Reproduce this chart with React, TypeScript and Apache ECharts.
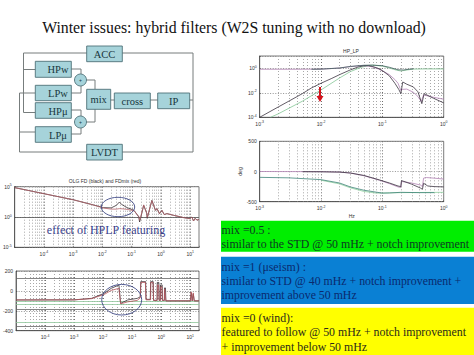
import React, { useEffect, useRef } from "react";
import * as echarts from "echarts";

const titleText = "Winter issues: hybrid filters (W2S tuning with no download)";
const hpLpXTicks = [-3, -2, -1, 0];
const hpLpMagTicks = [-4, -2, 0];
const olgXTicks = [-4, -3, -2, -1, 0, 1];
const olgMagTicks = [-5, 0, 5];
const minorSteps = [1, 2, 3, 4, 5, 6, 7, 8, 9];
const olgMarginLevels = [130, -180, -360];
const olgMarginLevelsGreen = [-100, -135, -315];

const magPurple = [[0.001,0.83],[0.005,0.83],[0.01,0.85],[0.015,0.95],[0.02,1.05],[0.03,1.35],[0.04,1.55],[0.05,1.6],[0.06,1.5],[0.07,1.25],[0.085,0.9],[0.1,0.62],[0.13,0.3],[0.16,0.12],[0.18,0.06],[0.195,0.022],[0.2,0.015],[0.21,0.019],[0.25,0.02],[0.32,0.011],[0.38,0.005],[0.43,0.0019],[0.44,0.0019],[0.47,0.0067],[0.68,0.0043],[1,0.003]];
const magBlackHp = [[0.001,0.0001],[0.002,0.00069],[0.003,0.0021],[0.005,0.0087],[0.007,0.025],[0.01,0.06],[0.015,0.15],[0.02,0.3],[0.03,0.73],[0.04,1.25],[0.05,1.6],[0.06,1.6],[0.07,1.37],[0.085,1],[0.1,0.65],[0.13,0.24],[0.16,0.06],[0.185,0.019],[0.2,0.0085],[0.215,0.076],[0.25,0.05],[0.32,0.03],[0.38,0.012],[0.44,0.0013],[0.48,0.0085],[0.68,0.0036],[1,0.0015]];
const magBlackLp = [[0.007,0.83],[0.01,0.85],[0.02,1.05],[0.03,1.4],[0.05,1.75],[0.07,1.8],[0.1,1.6],[0.13,1.2],[0.18,0.75],[0.22,0.72],[0.28,0.85],[0.32,0.88]];
const magGreenHp = [[0.0015,0.0001],[0.002,0.00019],[0.003,0.00055],[0.005,0.0021],[0.01,0.017],[0.02,0.16],[0.03,0.53],[0.045,1.2],[0.055,1.5]];
const magGreenLp = [[0.05,1.6],[0.07,1.8],[0.1,1.5],[0.13,1.05],[0.17,0.7],[0.2,0.6],[0.25,0.72],[0.32,0.85],[0.5,0.88],[1,0.88]];

const phPurple = [[0.001,0],[0.01,-3],[0.02,-10],[0.03,-25],[0.05,-70],[0.09,-145],[0.13,-200],[0.18,-255],[0.2,-265],[0.205,-165],[0.3,-190],[0.42,-225],[0.45,-250],[0.47,-110],[0.52,-100],[0.7,-110],[1,-125]];
const phBlack = [[0.005,-3],[0.01,-5],[0.02,-10],[0.03,-25],[0.05,-65],[0.09,-140],[0.13,-190],[0.18,-240],[0.2,-250],[0.205,-150],[0.3,-210],[0.42,-275],[0.45,-295],[0.47,-195],[0.55,-240],[0.7,-250],[1,-255]];
const phTeal = [[0.001,-97],[0.003,-105],[0.01,-135],[0.02,-190],[0.03,-255],[0.05,-310],[0.1,-358],[0.13,-355],[0.2,-345],[0.4,-350],[0.7,-350]];
const phGreen = [[0.01,-145],[0.02,-205],[0.03,-270],[0.05,-330],[0.08,-358],[0.2,-350],[1,-345]];

const olgMagBlack = [[0.00001,70000],[0.0001,7000],[0.001,700],[0.004,126],[0.011,35],[0.02,32],[0.03,85],[0.038,295],[0.045,120],[0.07,35],[0.12,12.6],[0.175,1],[0.186,0.15],[0.2,0.5],[0.257,85],[0.33,3.6],[0.34,0.6],[0.49,562],[0.65,12.6],[0.73,24],[0.89,3.6],[1.08,12.6],[1.3,2.5],[1.6,3.6],[2.7,1.9],[5.9,0.8],[10,0.54],[11.4,1],[13,0.22],[14.8,0.6],[17,0.3],[20,0.4]];
const olgMagRed = [[0.00001,70000],[0.0001,7000],[0.001,700],[0.004,126],[0.011,30],[0.02,20],[0.03,20],[0.038,24],[0.05,22],[0.07,18],[0.12,11],[0.175,1.2],[0.186,0.3],[0.2,0.8],[0.257,100],[0.33,3.6],[0.34,0.9],[0.49,500],[0.65,12.6],[0.73,24],[0.89,3.6],[1.08,12.6],[1.3,2.5],[1.6,3.6],[2.7,1.9],[5.9,0.8],[10,0.54],[11.4,1],[13,0.22],[14.8,0.6],[17,0.3],[20,0.4]];
const olgPhBlack = [[0.00001,-91],[0.001,-90],[0.004,-75],[0.011,-24],[0.019,26],[0.035,59],[0.04,-125],[0.07,-91],[0.15,-75],[0.19,-60],[0.197,93],[0.291,93],[0.3,-85],[0.42,-85],[0.432,93],[0.533,93],[0.545,-95],[0.72,-95],[0.73,85],[0.83,85],[0.85,-95],[0.93,-95],[0.946,60],[1.08,60],[1.1,-95],[1.28,-95],[1.3,30],[1.4,30],[1.45,-100],[10,-100],[10.8,-20],[11.7,-100],[12.7,-30],[13.7,-100],[20,-100]];
const olgPhRed = [[0.00001,-91],[0.001,-90],[0.004,-78],[0.011,-35],[0.019,5],[0.035,26],[0.04,-130],[0.07,-110],[0.15,-95],[0.19,-70],[0.2,85],[0.285,85],[0.3,-90],[0.43,-90],[0.44,85],[0.52,85],[0.545,-95],[0.73,-95],[0.74,60],[0.81,60],[0.85,-95],[0.95,-95],[0.96,40],[1.06,40],[1.1,-95],[1.29,-95],[1.31,20],[1.38,20],[1.45,-100],[10,-100],[10.8,-10],[11.7,-100],[12.7,-20],[13.7,-100],[20,-100]];

const grids = [
  { left: 259.7, top: 56, width: 184, height: 61.3 },
  { left: 259.7, top: 141.3, width: 184, height: 60.4 },
  { left: 14.7, top: 186.7, width: 184.3, height: 60.6 },
  { left: 14.7, top: 271, width: 184.3, height: 59.7 },
];

const SERIF = "'Liberation Serif', serif";
const SANS = "'Liberation Sans', sans-serif";
const axisColor = "#444";
const dots = [1, 1.6];

const expLabel = (shown: number[]) => (v: number) => {
  const e = Math.log10(v);
  const r = Math.round(e);
  if (Math.abs(e - r) > 0.01 || !shown.includes(r)) return "";
  return `10{e|${r}}`;
};
const richLabel = {
  color: "#333",
  fontSize: 5,
  fontFamily: SANS,
  margin: 3,
  rich: { e: { fontSize: 3.5, fontFamily: SANS, color: "#333", padding: [0, 0, 3, 0] } },
};
const plainLabel = { color: "#333", fontSize: 5, fontFamily: SANS, margin: 3 };
const lineCommon = { show: true, onZero: false, lineStyle: { color: axisColor, width: 0.7 } };
const tickCommon = { show: true, inside: true, length: 1.5, lineStyle: { color: axisColor, width: 0.5 } };
const dotted = { show: true, lineStyle: { color: "#777", type: dots, width: 0.8 } };

function xAxis(gridIndex: number, min: number, max: number, shown: number[], name?: string) {
  return {
    type: "log" as const, gridIndex, min, max, logBase: 10, interval: 1,
    axisLine: lineCommon, axisTick: tickCommon, splitLine: { show: false },
    axisLabel: { ...richLabel, formatter: expLabel(shown), showMinLabel: true, showMaxLabel: true, hideOverlap: false },
    name, nameLocation: "middle" as const, nameGap: 12,
    nameTextStyle: { fontSize: 5, fontFamily: SANS, color: "#333" },
  };
}
function logY(gridIndex: number, min: number, max: number, interval: number, shown: number[]) {
  return {
    type: "log" as const, gridIndex, min, max, logBase: 10, interval,
    axisLine: lineCommon, axisTick: tickCommon, splitLine: dotted,
    axisLabel: { ...richLabel, formatter: expLabel(shown), showMinLabel: true, showMaxLabel: true },
  };
}
function linY(gridIndex: number, min: number, max: number, interval: number, name?: string) {
  return {
    type: "value" as const, gridIndex, min, max, interval,
    axisLine: lineCommon, axisTick: tickCommon, splitLine: dotted,
    axisLabel: { ...plainLabel },
    name, nameLocation: "middle" as const, nameGap: 12,
    nameTextStyle: { fontSize: 5, fontFamily: SANS, color: "#333" },
  };
}
function freqGridValues(fromExp: number, toExp: number, minVal: number, maxVal: number, yRef: number) {
  const out: number[][] = [];
  for (let k = fromExp; k <= toExp; k++) {
    for (const s of minorSteps) {
      const v = s * Math.pow(10, k);
      if (v > minVal && v < maxVal) out.push([v, yRef]);
    }
  }
  return out;
}
function freqGrid(i: number, data: number[][]) {
  return {
    type: "custom" as const, name: `freq grid ${i}`, xAxisIndex: i, yAxisIndex: i, data, silent: true, z: 1,
    encode: { x: 0, y: 1 },
    renderItem: (params: any, api: any) => {
      const p = api.coord([api.value(0), api.value(1)]);
      const c = params.coordSys;
      const x = Math.round(p[0]) + 0.5;
      const isMajor = Math.abs(Math.log10(api.value(0)) - Math.round(Math.log10(api.value(0)))) < 0.001;
      return {
        type: "line",
        shape: { x1: x, y1: c.y, x2: x, y2: c.y + c.height },
        style: { stroke: isMajor ? "#707070" : "#a8a8a8", lineWidth: 1, lineDash: [1, 2] },
      };
    },
  };
}
function levelSeries(i: number, levels: { yAxis: number; color: string }[]) {
  return {
    type: "line" as const, name: `levels ${i}`, xAxisIndex: i, yAxisIndex: i, data: [], silent: true,
    markLine: {
      silent: true, symbol: "none", animation: false, z: 2, label: { show: false },
      data: levels.map((l) => ({ yAxis: l.yAxis, lineStyle: { color: l.color, type: "solid" as const, width: 0.8 } })),
    },
  };
}
function curve(i: number, name: string, data: number[][], color: string, width = 0.8) {
  return {
    type: "line" as const, name, xAxisIndex: i, yAxisIndex: i, data, showSymbol: false, symbol: "none",
    z: 3, lineStyle: { color, width }, itemStyle: { color },
  };
}

const boxFill = "#a6d3da";
const boxStroke = "#4f7278";
const wire = "#777d7d";
const boxText = "#17363c";
function box(x: number, y: number, w: number, h: number, label: string, textX?: number) {
  return [
    { type: "rect", shape: { x, y, width: w, height: h }, style: { fill: boxFill, stroke: boxStroke, lineWidth: 0.9 } },
    { type: "text", x: textX ?? x + w / 2, y: y + h / 2 + 0.5,
      style: { text: label, fill: boxText, font: `10.5px ${SERIF}`, textAlign: "center", textVerticalAlign: "middle" } },
  ];
}
function wires(points: number[][]) {
  return { type: "polyline", shape: { points }, style: { stroke: wire, fill: "none", lineWidth: 1 } };
}
function adder(cx: number, cy: number) {
  return [
    { type: "circle", shape: { cx, cy, r: 6 }, style: { fill: boxFill, stroke: boxStroke, lineWidth: 0.9 } },
    { type: "text", x: cx, y: cy, style: { text: "+", fill: boxText, font: `5px ${SANS}`, textAlign: "center", textVerticalAlign: "middle" } },
  ];
}
function panel(y: number, h: number, fill: string, color: string, lines: string[], ys: number[]) {
  return [
    { type: "rect", shape: { x: 221, y, width: 253, height: h }, style: { fill } },
    ...lines.map((t, i) => ({
      type: "text", x: 221.5, y: ys[i],
      style: { text: t, fill: color, font: `11.85px ${SERIF}`, textAlign: "left", textVerticalAlign: "middle" },
    })),
  ];
}

export default function App() {
  const ref = useRef<HTMLDivElement>(null);
  useEffect(() => {
    document.body.style.margin = "0";
    document.body.style.overflow = "hidden";
    const chart = echarts.init(ref.current!, null, { renderer: "svg" });
    chart.setOption({
      animation: false,
      backgroundColor: "#ffffff",
      title: [
        { text: titleText, left: 234, top: 19, padding: 0, textAlign: "center", textStyle: { fontFamily: SERIF, fontSize: 15.8, fontWeight: "normal", color: "#111" } },
        { text: "HP_LP", left: 351, top: 48.5, padding: 0, textAlign: "center", textStyle: { fontFamily: SANS, fontSize: 5, fontWeight: "normal", color: "#333" } },
        { text: "OLG FD (black) and FDmix (red)", left: 105, top: 178.5, padding: 0, textAlign: "center", textStyle: { fontFamily: SANS, fontSize: 5, fontWeight: "normal", color: "#333" } },
      ],
      grid: grids.map((g) => ({ ...g, show: true, borderColor: axisColor, borderWidth: 0.7, backgroundColor: "transparent" })),
      xAxis: [
        xAxis(0, 0.001, 1, hpLpXTicks),
        xAxis(1, 0.001, 1, hpLpXTicks, "Hz"),
        xAxis(2, 0.00001, 20, olgXTicks),
        xAxis(3, 0.00001, 20, olgXTicks),
      ],
      yAxis: [
        logY(0, 0.0001, 10, 2, hpLpMagTicks),
        linY(1, -500, 500, 500, "deg"),
        logY(2, 0.00001, 100000, 5, olgMagTicks),
        linY(3, -400, 200, 200),
      ],
      series: [
        freqGrid(0, freqGridValues(-3, -1, 0.001, 1, 1)),
        freqGrid(1, freqGridValues(-3, -1, 0.001, 1, 0)),
        freqGrid(2, freqGridValues(-5, 1, 0.00001, 20, 1)),
        freqGrid(3, freqGridValues(-5, 1, 0.00001, 20, 0)),
        levelSeries(2, [{ yAxis: 1, color: "#555" }]),
        levelSeries(3, [
          ...olgMarginLevels.map((yAxis) => ({ yAxis, color: "#666" })),
          ...olgMarginLevelsGreen.map((yAxis) => ({ yAxis, color: "#8fc79a" })),
        ]),
        curve(0, "HP green", magGreenHp, "#84c795"),
        curve(0, "LP green", magGreenLp, "#84c795"),
        curve(0, "mix purple", magPurple, "#b183b4"),
        curve(0, "HP black", magBlackHp, "#3b3340"),
        curve(0, "LP black", magBlackLp, "#3f5a5c"),
        curve(1, "phase green", phGreen, "#8fcf9f"),
        curve(1, "phase teal", phTeal, "#3f8478"),
        curve(1, "phase purple", phPurple, "#b183b4"),
        curve(1, "phase black", phBlack, "#3b3340"),
        curve(2, "OLG FD", olgMagBlack, "#3a3035"),
        curve(2, "FDmix", olgMagRed, "#b5636b"),
        curve(3, "OLG FD phase", olgPhBlack, "#3a3035"),
        curve(3, "FDmix phase", olgPhRed, "#b5545c"),
      ],
      graphic: [
        wires([[87, 53], [23.5, 53], [23.5, 112.5], [35.5, 112.5]]),
        wires([[23.5, 69.5], [35.5, 69.5]]),
        wires([[122, 53], [193, 53], [193, 152], [122, 152]]),
        wires([[189, 100], [193, 100]]),
        wires([[87, 152], [19.5, 152], [19.5, 93], [35.5, 93]]),
        wires([[19.5, 132], [35.5, 132]]),
        wires([[71, 69], [81, 69], [81, 74]]),
        wires([[71, 93], [81, 93], [81, 86]]),
        wires([[71, 110], [81, 110], [81, 116]]),
        wires([[71, 134], [81, 134], [81, 128]]),
        wires([[86.5, 80], [95, 80], [95, 89]]),
        wires([[86.5, 122], [95, 122], [95, 109]]),
        wires([[110, 100], [115, 100]]),
        wires([[150, 100], [158, 100]]),
        ...box(86.7, 46, 35.6, 15.7, "ACC"),
        ...box(35.3, 61.3, 36, 16, "HPw", 58),
        ...box(35.3, 85.3, 36, 15.4, "LPw", 58),
        ...box(35.3, 102.7, 36, 15.6, "HPμ", 58),
        ...box(35.3, 126.7, 36, 15.6, "LPμ", 58),
        ...box(86.7, 89.3, 24, 20, "mix"),
        ...box(114.3, 93, 36, 15.7, "cross"),
        ...box(157.7, 93, 32, 15.7, "IP"),
        ...box(86.7, 144.3, 35.6, 15.7, "LVDT"),
        ...adder(80.5, 80),
        ...adder(80.5, 122),
        { type: "rect", shape: { x: 319, y: 87, width: 2, height: 10 }, style: { fill: "#d3141c" }, z: 20 },
        { type: "polygon", shape: { points: [[316.5, 96], [323.5, 96], [320, 102]] }, style: { fill: "#d3141c" }, z: 20 },
        { type: "ellipse", shape: { cx: 118, cy: 207, rx: 16.7, ry: 9.7 }, style: { fill: "none", stroke: "#3f4a86", lineWidth: 0.9 }, z: 20 },
        { type: "ellipse", shape: { cx: 121.7, cy: 299.7, rx: 20, ry: 15.3 }, style: { fill: "none", stroke: "#3f4a86", lineWidth: 0.9 }, z: 20 },
        { type: "text", x: 106, y: 230, z: 20, style: { text: "effect of HPLP featuring", fill: "#3a3f8c", font: `12px ${SERIF}`, textAlign: "center", textVerticalAlign: "middle" } },
        ...panel(220.7, 31, "#00ee00", "#0c3a22", ["mix =0.5 :", "similar to the STD @ 50 mHz + notch improvement"], [229.5, 244]),
        ...panel(256.7, 47.3, "#0a80d4", "#0a2a6e", ["mix =1 (μseism) :", "similar to STD @ 40 mHz + notch improvement +", "improvement above 50 mHz"], [266.7, 281, 295]),
        ...panel(307.7, 47.3, "#ffff00", "#2a2a1a", ["mix =0 (wind):", "featured to follow @ 50 mHz + notch improvement", "+ improvement below 50 mHz"], [318.3, 332.3, 346.7]),
      ],
    });
    return () => chart.dispose();
  }, []);
  return <div ref={ref} style={{ width: 474, height: 355 }} />;
}
